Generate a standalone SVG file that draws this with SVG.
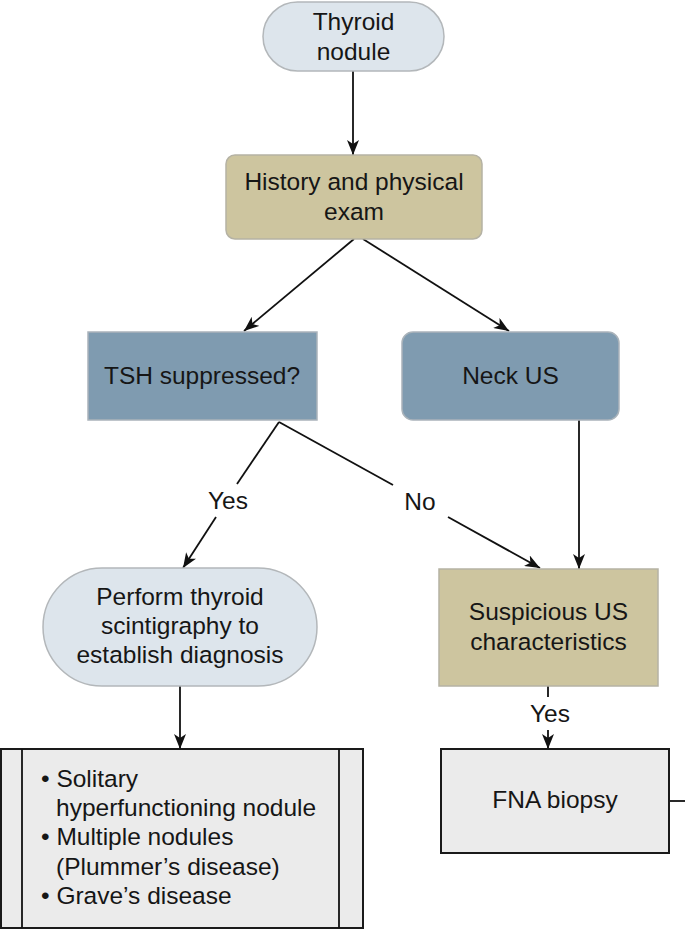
<svg xmlns="http://www.w3.org/2000/svg" width="685" height="929" viewBox="0 0 685 929">
<style>
text{font-family:"Liberation Sans",Arial,sans-serif;font-size:24.5px;fill:#161616}
.c{text-anchor:middle}
.pill{fill:#dde5ec;stroke:#b3b7ba;stroke-width:1.5}
.tan{fill:#cdc59f;stroke:#b5b2a4;stroke-width:1.5}
.blue{fill:#7f9bb0;stroke:#aab3ba;stroke-width:1.5}
.grey{fill:#ebebeb;stroke:#1a1a1a;stroke-width:2}
.ln{stroke:#111;stroke-width:1.8;fill:none}
</style>
<defs>
<marker id="ah" markerUnits="userSpaceOnUse" markerWidth="16" markerHeight="12" refX="15" refY="6" orient="auto">
<path d="M0,0 L15,6 L0,12 L4,6 z" fill="#111"/>
</marker>
</defs>
<rect width="685" height="929" fill="#fff"/>
<g id="connectors">
<line class="ln" x1="353" y1="71" x2="353" y2="155" marker-end="url(#ah)"/>
<line class="ln" x1="354" y1="239" x2="244" y2="331" marker-end="url(#ah)"/>
<line class="ln" x1="363" y1="239" x2="509" y2="331" marker-end="url(#ah)"/>
<line class="ln" x1="279" y1="422" x2="237" y2="484"/>
<line class="ln" x1="216" y1="517" x2="183" y2="568" marker-end="url(#ah)"/>
<line class="ln" x1="279" y1="422" x2="393" y2="485"/>
<line class="ln" x1="448" y1="517" x2="540" y2="568" marker-end="url(#ah)"/>
<line class="ln" x1="579" y1="420" x2="579" y2="569" marker-end="url(#ah)"/>
<line class="ln" x1="180" y1="686" x2="180" y2="749" marker-end="url(#ah)"/>
<line class="ln" x1="548" y1="686" x2="548" y2="697"/>
<line class="ln" x1="548" y1="730" x2="548" y2="749" marker-end="url(#ah)"/>
<line class="ln" x1="669" y1="801" x2="685" y2="801"/>
<text class="c" x="228" y="509">Yes</text>
<text class="c" x="420" y="510">No</text>
<text class="c" x="550" y="722">Yes</text>
</g>
<g id="thyroid-nodule">
<rect class="pill" x="263" y="2" width="181" height="69" rx="34.5"/>
<text class="c" x="353.5" y="30">Thyroid</text>
<text class="c" x="353.5" y="60">nodule</text>
</g>
<g id="history">
<rect class="tan" x="226" y="155" width="256" height="84" rx="9"/>
<text class="c" x="354" y="190">History and physical</text>
<text class="c" x="354" y="220">exam</text>
</g>
<g id="tsh">
<rect class="blue" x="88" y="332" width="229" height="88"/>
<text class="c" x="202" y="384">TSH suppressed?</text>
</g>
<g id="neck-us">
<rect class="blue" x="402" y="332" width="217" height="88" rx="11"/>
<text class="c" x="510.5" y="384">Neck US</text>
</g>
<g id="scintigraphy">
<rect class="pill" x="43" y="568" width="274" height="118" rx="59"/>
<text class="c" x="180" y="605">Perform thyroid</text>
<text class="c" x="180" y="634">scintigraphy to</text>
<text class="c" x="180" y="663">establish diagnosis</text>
</g>
<g id="suspicious">
<rect class="tan" x="439" y="569" width="219" height="117"/>
<text class="c" x="548.5" y="620">Suspicious US</text>
<text class="c" x="548.5" y="650">characteristics</text>
</g>
<g id="diagnoses">
<rect class="grey" x="1" y="749" width="362" height="179"/>
<line class="ln" x1="22" y1="749" x2="22" y2="928" stroke-width="2"/>
<line class="ln" x1="339" y1="749" x2="339" y2="928" stroke-width="2"/>
<text x="41" y="787">• Solitary</text>
<text x="56" y="816">hyperfunctioning nodule</text>
<text x="41" y="845">• Multiple nodules</text>
<text x="56" y="875">(Plummer’s disease)</text>
<text x="41" y="904">• Grave’s disease</text>
</g>
<g id="fna">
<rect class="grey" x="441" y="749" width="228" height="104"/>
<text class="c" x="555" y="808">FNA biopsy</text>
</g>
</svg>
